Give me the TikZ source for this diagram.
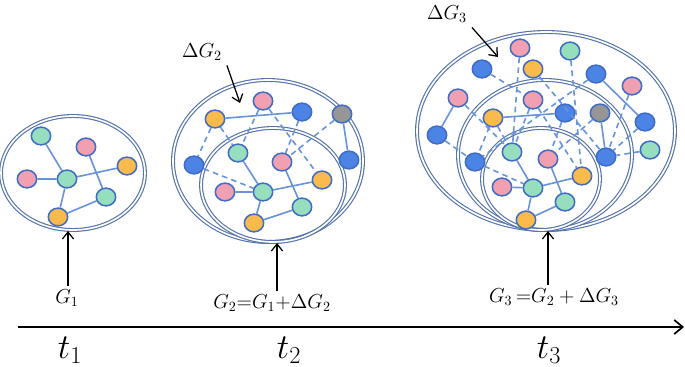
\documentclass[tikz,border=0pt]{standalone}
\usepackage{amsmath}
\usepackage{tikz}
\usetikzlibrary{arrows.meta,positioning,shapes.geometric}
\usepackage{xcolor}
\definecolor{ringblue}{RGB}{84,114,172}
\definecolor{nodeline}{RGB}{64,108,198}
\definecolor{edgeblue}{RGB}{104,148,218}
\definecolor{nodegreen}{RGB}{150,222,190}
\definecolor{nodepink}{RGB}{240,160,176}
\definecolor{nodeorange}{RGB}{250,186,76}
\definecolor{nodeblue}{RGB}{76,132,230}
\definecolor{nodegray}{RGB}{150,150,150}

\begin{document}
\begin{tikzpicture}[
  x=0.025cm, y=-0.025cm,
  gnode/.style={ellipse, draw=nodeline, line width=1.1pt, minimum width=13.8pt,
                minimum height=12.6pt, inner sep=0pt},
  greennode/.style={gnode, fill=nodegreen},
  pinknode/.style={gnode, fill=nodepink},
  orangenode/.style={gnode, fill=nodeorange},
  bluenode/.style={gnode, fill=nodeblue},
  graynode/.style={gnode, fill=nodegray},
  link/.style={draw=edgeblue, line width=1.15pt},
  dlink/.style={link, dash pattern=on 4pt off 3pt},
  ring/.style={draw=ringblue, line width=0.8pt, double=white, double distance=1.2pt},
  glabel/.style={font=\fontsize{14}{16}\selectfont, inner sep=2pt},
  tlabel/.style={font=\fontsize{23}{26}\selectfont},
  dlabel/.style={font=\fontsize{14}{16}\selectfont},
  labelarrow/.style={-{Straight Barb[length=5pt,width=8pt]}, line width=0.9pt},
  timearrow/.style={-{Straight Barb[length=6pt,width=10pt]}, line width=1.2pt}
]
\useasboundingbox (0,0) rectangle (685,367);

% Rings
\draw[ring] (73,173) ellipse [x radius=72, y radius=57];
\draw[ring] (268,161) ellipse [x radius=95, y radius=81];
\draw[ring] (273,185) ellipse [x radius=72, y radius=57];
\draw[ring] (546,131) ellipse [x radius=129, y radius=99];
\draw[ring] (545,155) ellipse [x radius=87, y radius=75];
\draw[ring] (541,179) ellipse [x radius=59, y radius=51];

% Snapshot G1
\node[greennode] (a1) at (41,136) {};
\node[pinknode] (a2) at (86,147) {};
\node[orangenode] (a3) at (127,166) {};
\node[pinknode] (a4) at (27,179) {};
\node[greennode] (a5) at (67,179) {};
\node[greennode] (a6) at (106,197) {};
\node[orangenode] (a7) at (58,217) {};

\draw[link] (a1) -- (a5) (a4) -- (a5) (a5) -- (a3) (a5) -- (a7)
            (a7) -- (a6) (a2) -- (a6);

% Snapshot G2
\node[greennode] (b1) at (238,153) {};
\node[pinknode] (b2) at (282,162) {};
\node[orangenode] (b3) at (322,180) {};
\node[pinknode] (b4) at (225,192) {};
\node[greennode] (b5) at (263,192) {};
\node[greennode] (b6) at (302,207) {};
\node[orangenode] (b7) at (254,223) {};
\node[orangenode] (b8) at (215,119) {};
\node[pinknode] (b9) at (263,101) {};
\node[bluenode] (b10) at (302,112) {};
\node[graynode] (b11) at (342,114) {};
\node[bluenode] (b12) at (194,165) {};
\node[bluenode] (b13) at (349,160) {};

\draw[link] (b1) -- (b5) (b4) -- (b5) (b5) -- (b3) (b5) -- (b7)
            (b7) -- (b6) (b2) -- (b6) (b8) -- (b10) (b11) -- (b13);
\draw[dlink] (b8) -- (b12) (b8) -- (b1) (b9) -- (b1) (b9) -- (b3)
             (b10) -- (b2) (b11) -- (b2) (b12) -- (b5);

% Snapshot G3
\node[greennode] (c1) at (512,152) {};
\node[pinknode] (c2) at (548,159) {};
\node[orangenode] (c3) at (582,176) {};
\node[pinknode] (c4) at (502,187) {};
\node[greennode] (c5) at (533,188) {};
\node[greennode] (c6) at (565,202) {};
\node[orangenode] (c7) at (526,220) {};
\node[orangenode] (c8) at (493,118) {};
\node[pinknode] (c9) at (533,100) {};
\node[bluenode] (c10) at (565,113) {};
\node[graynode] (c11) at (600,113) {};
\node[bluenode] (c12) at (475,162) {};
\node[bluenode] (c13) at (606,157) {};
\node[pinknode] (c14) at (520,48) {};
\node[greennode] (c15) at (570,51) {};
\node[bluenode] (c16) at (482,69) {};
\node[orangenode] (c17) at (533,69) {};
\node[bluenode] (c18) at (596,74) {};
\node[pinknode] (c19) at (632,86) {};
\node[pinknode] (c20) at (458,98) {};
\node[bluenode] (c21) at (645,122) {};
\node[bluenode] (c22) at (437,135) {};
\node[greennode] (c23) at (650,150) {};

\draw[link] (c1) -- (c5) (c4) -- (c5) (c5) -- (c3) (c5) -- (c7)
            (c7) -- (c6) (c2) -- (c6) (c8) -- (c10) (c11) -- (c13)
            (c20) -- (c22) (c18) -- (c21);
\draw[dlink] (c8) -- (c12) (c8) -- (c1) (c9) -- (c1) (c9) -- (c3)
             (c10) -- (c2) (c11) -- (c2) (c12) -- (c5)
             (c16) -- (c9) (c14) -- (c1) (c17) -- (c13) (c15) -- (c3)
             (c18) -- (c12) (c19) -- (c13) (c20) -- (c1) (c22) -- (c12)
             (c21) -- (c13) (c23) -- (c13);

% Delta labels
\node[dlabel] (d2) at (202,52) {$\Delta G_2$};
\coordinate (d2end) at (240,103);
\draw[labelarrow] (d2.south east) -- (d2end);
\node[dlabel] (d3) at (447,14) {$\Delta G_3$};
\coordinate (d3end) at (498,57);
\draw[labelarrow] (d3.south east) -- (d3end);

% Snapshot labels
\node[glabel] (g1) at (67,298) {$G_1$};
\node[glabel] (g2) at (272,303) {$G_2{=}G_1{+}\Delta G_2$};
\node[glabel] (g3) at (554,297) {$G_3\,{=}G_2 + \Delta G_3$};
\coordinate (r1) at (68,231);
\coordinate (r2) at (277,243);
\coordinate (r3) at (548,231);
\draw[labelarrow] (r1 |- g1.north) -- (r1);
\draw[labelarrow] (r2 |- g2.north) -- (r2);
\draw[labelarrow] (r3 |- g3.north) -- (r3);

% Time axis
\coordinate (ax0) at (18,327);
\coordinate (ax1) at (684,327);
\draw[timearrow] (ax0) -- (ax1);
\node[tlabel] (t1) at (70,350) {$t_1$};
\node[tlabel] (t2) at (289,350) {$t_2$};
\node[tlabel] (t3) at (549,350) {$t_3$};

\end{tikzpicture}
\end{document}
